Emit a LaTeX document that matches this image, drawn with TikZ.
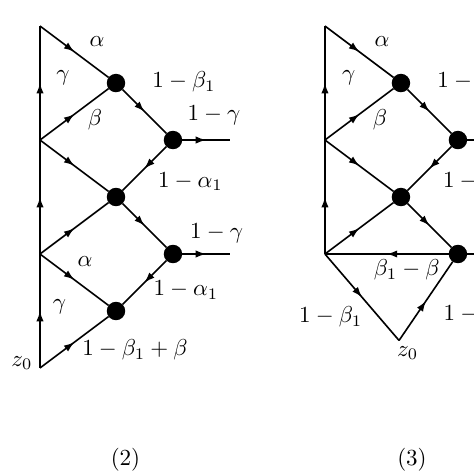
\documentclass[tikz,border=0pt]{standalone}
\usetikzlibrary{positioning,arrows.meta,decorations.markings}
\tikzstyle{dot} = [draw, circle, fill=black, inner sep=0pt, minimum size=7.3pt]
\tikzstyle{lbl} = [inner sep=1pt]
\tikzset{mid/.style={
    decoration={markings, mark=at position 0.5 with {\arrow{Latex[length=4.5pt,width=3.2pt]}}},
    postaction={decorate}
    }
}

\begin{document}
\begin{tikzpicture}[x=0.29cm, y=0.29cm, line width=0.7pt]
        \useasboundingbox (-2.105,-5.58) rectangle (22.84,19.37);
        \clip (-2.105,-5.58) rectangle (22.84,19.37);

        \coordinate (t2) at (0,18);
        \coordinate (la2) at (0,12);
        \coordinate (lb2) at (0,6);
        \coordinate (z2) at (0,0);
        \node [dot] (a2) at (4,15) {};
        \node [dot] (b2) at (7,12) {};
        \node [dot] (c2) at (4,9) {};
        \node [dot] (d2) at (7,6) {};
        \node [dot] (e2) at (4,3) {};
        \coordinate (ob2) at (10,12);
        \coordinate (od2) at (10,6);

        \draw [mid] (z2) -- (lb2);
        \draw [mid] (lb2) -- (la2);
        \draw [mid] (la2) -- (t2);
        \draw [mid] (t2) -- (a2);
        \draw [mid] (la2) -- (a2);
        \draw [mid] (a2) -- (b2);
        \draw [mid] (b2) -- (ob2);
        \draw [mid] (la2) -- (c2);
        \draw [mid] (b2) -- (c2);
        \draw [mid] (lb2) -- (c2);
        \draw [mid] (c2) -- (d2);
        \draw [mid] (d2) -- (od2);
        \draw [mid] (lb2) -- (e2);
        \draw [mid] (d2) -- (e2);
        \draw [mid] (z2) -- (e2);

        \node [lbl] (alpha2) at (3.0,17.16) {$\alpha$};
        \node [lbl] (gamma2) at (1.21,15.26) {$\gamma$};
        \node [lbl] (beta2) at (2.89,13.05) {$\beta$};
        \node [lbl] (ab2) at (7.58,15.05) {$1-\beta_1$};
        \node [lbl] (bo2) at (9.16,13.3) {$1-\gamma$};
        \node [lbl] (bc2) at (7.92,9.8) {$1-\alpha_1$};
        \node [lbl] (do2) at (9.3,7.1) {$1-\gamma$};
        \node [lbl] (alphb2) at (2.37,5.58) {$\alpha$};
        \node [lbl] (de2) at (7.68,4.1) {$1-\alpha_1$};
        \node [lbl] (gammb2) at (1.03,3.2) {$\gamma$};
        \node [lbl] (ze2) at (5.0,0.95) {$1-\beta_1+\beta$};
        \node [lbl] (zl2) at (-0.95,0.26) {$z_0$};
        \node [lbl] (cap2) at (4.5,-4.84) {$(2)$};

        \coordinate (t3) at (15,18);
        \coordinate (la3) at (15,12);
        \coordinate (lb3) at (15,6);
        \coordinate (z3) at (18.9,1.45);
        \node [dot] (a3) at (19,15) {};
        \node [dot] (b3) at (22,12) {};
        \node [dot] (c3) at (19,9) {};
        \node [dot] (d3) at (22,6) {};
        \coordinate (ob3) at (25,12);
        \coordinate (od3) at (25,6);

        \draw [mid] (lb3) -- (la3);
        \draw [mid] (la3) -- (t3);
        \draw [mid] (t3) -- (a3);
        \draw [mid] (la3) -- (a3);
        \draw [mid] (a3) -- (b3);
        \draw [mid] (b3) -- (ob3);
        \draw [mid] (la3) -- (c3);
        \draw [mid] (b3) -- (c3);
        \draw [mid] (lb3) -- (c3);
        \draw [mid] (c3) -- (d3);
        \draw [mid] (d3) -- (od3);
        \draw [mid] (d3) -- (lb3);
        \draw [mid] (lb3) -- (z3);
        \draw [mid] (z3) -- (d3);

        \node [lbl] (alpha3) at (18.0,17.16) {$\alpha$};
        \node [lbl] (gamma3) at (16.25,15.26) {$\gamma$};
        \node [lbl] (beta3) at (17.9,13.05) {$\beta$};
        \node [lbl] (ab3) at (22.58,15.05) {$1-\beta_1$};
        \node [lbl] (bc3) at (22.92,9.8) {$1-\alpha_1$};
        \node [lbl] (dl3) at (19.3,5.16) {$\beta_1-\beta$};
        \node [lbl] (lz3) at (15.3,2.68) {$1-\beta_1$};
        \node [lbl] (zd3) at (22.95,2.8) {$1-\alpha_1$};
        \node [lbl] (zl3) at (19.35,0.79) {$z_0$};
        \node [lbl] (cap3) at (19.58,-4.84) {$(3)$};
\end{tikzpicture}
\end{document}
